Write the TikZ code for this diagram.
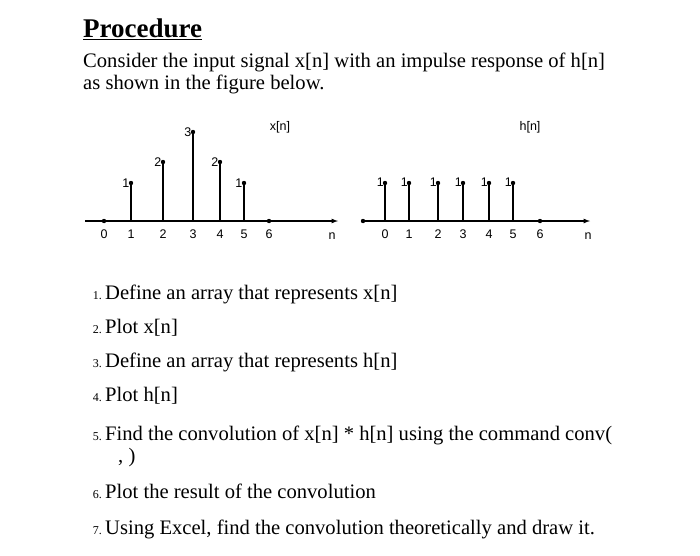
\documentclass[tikz,border=0pt]{standalone}
\usepackage{fontspec}
\setmainfont{Liberation Serif}
\newfontfamily\plotfont{Liberation Sans}
\begin{document}
\begin{tikzpicture}[x=1pt,y=-1pt,
  body/.style={anchor=base west,inner sep=0pt,font=\fontsize{20.6}{24}\selectfont},
  num/.style={anchor=base east,inner sep=0pt,font=\fontsize{12}{13}\selectfont},
  lab/.style={inner sep=0pt,font=\plotfont\fontsize{12.5}{13}\selectfont},
  stem/.style={line width=1.2pt},
  axisline/.style={line width=1.2pt,-latex}]
\useasboundingbox (0,0) rectangle (700,555);
\node[body,font=\bfseries\fontsize{27}{29}\selectfont] (title) at (83,37) {\underline{Procedure}};
\node[body] (l1) at (83,67) {Consider the input signal x[n] with an impulse response of h[n]};
\node[body] (l2) at (83,89) {as shown in the figure below.};
% x[n]
\coordinate (xa) at (85,221); \coordinate (xb) at (338,221);
\draw[axisline] (xa) -- (xb);
\fill (104,221) circle (2.2) (269,221) circle (2.2);
\foreach \x/\t/\v in {131/183/1,163/162/2,193/132/3,220/162/2,244/183/1}{
  \draw[stem] (\x,221) -- (\x,\t); \fill (\x,\t) circle (2.2);
  \node[lab,anchor=east] at (\x-1.5,\t) {\v};}
\foreach \x/\v in {104/0,131/1,163/2,193/3,220/4,244/5,269/6}{
  \node[lab] at (\x,234) {\v};}
\node[lab] (xn) at (332,236) {n};
\node[lab] (xl) at (280,127) {x[n]};
% h[n]
\draw[axisline] (363,221) -- (590,221);
\fill (363,221) circle (2.2) (540,221) circle (2.2);
\foreach \x in {385,409,438,463,489,513}{
  \draw[stem] (\x,221) -- (\x,183); \fill (\x,183) circle (2.2);
  \node[lab,anchor=east] at (\x-1,182) {1};}
\foreach \x/\v in {385/0,409/1,438/2,463/3,489/4,513/5,540/6}{
  \node[lab] at (\x,234) {\v};}
\node[lab] (hn) at (588,236) {n};
\node[lab] (hl) at (530,127) {h[n]};
% list
\foreach \y/\n/\t in {299/1/Define an array that represents x[n],333/2/Plot x[n],367/3/Define an array that represents h[n],401/4/Plot h[n],440/5/{Find the convolution of x[n] * h[n] using the command conv(},498/6/Plot the result of the convolution,534/7/{Using Excel, find the convolution theoretically and draw it.}}{
  \node[num] at (102,\y) {\n.};
  \node[body] at (105,\y) {\t};}
\node[body] at (118,462) {, )};
\end{tikzpicture}
\end{document}
